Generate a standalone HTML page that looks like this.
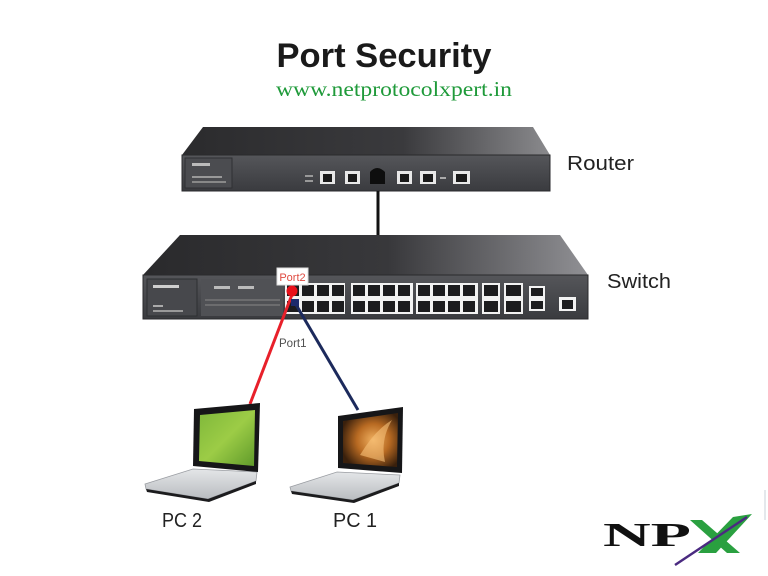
<!DOCTYPE html>
<html>
<head>
<meta charset="utf-8">
<style>
html,body{margin:0;padding:0;background:#fff;}
svg{display:block;}
</style>
</head>
<body>
<svg width="768" height="576" viewBox="0 0 768 576" xmlns="http://www.w3.org/2000/svg">
<defs>
  <linearGradient id="topR" x1="0" y1="0" x2="1" y2="0">
    <stop offset="0" stop-color="#2b2b2d"/>
    <stop offset="0.6" stop-color="#3a3a3d"/>
    <stop offset="1" stop-color="#8a8a8d"/>
  </linearGradient>
  <linearGradient id="topS" x1="0" y1="0" x2="1" y2="0">
    <stop offset="0" stop-color="#2a2a2c"/>
    <stop offset="0.55" stop-color="#38383b"/>
    <stop offset="1" stop-color="#909094"/>
  </linearGradient>
  <linearGradient id="front" x1="0" y1="0" x2="0" y2="1">
    <stop offset="0" stop-color="#55565a"/>
    <stop offset="1" stop-color="#3a3b3f"/>
  </linearGradient>
  <linearGradient id="green" x1="0" y1="0" x2="1" y2="1">
    <stop offset="0" stop-color="#7fb83a"/>
    <stop offset="0.5" stop-color="#9ccc46"/>
    <stop offset="1" stop-color="#5f9a2a"/>
  </linearGradient>
  <radialGradient id="orange" cx="0.55" cy="0.5" r="0.6">
    <stop offset="0" stop-color="#f0b060"/>
    <stop offset="0.5" stop-color="#b86a22"/>
    <stop offset="1" stop-color="#3a200c"/>
  </radialGradient>
  <linearGradient id="base" x1="0" y1="0" x2="0" y2="1">
    <stop offset="0" stop-color="#e4e6e8"/>
    <stop offset="1" stop-color="#b9bcc0"/>
  </linearGradient>
</defs>

<!-- Title -->
<text x="384" y="67" text-anchor="middle" font-family="Liberation Sans, sans-serif" font-weight="bold" font-size="34" fill="#1a1a1a" textLength="215" lengthAdjust="spacingAndGlyphs">Port Security</text>
<text x="394" y="96" text-anchor="middle" font-family="Liberation Serif, serif" font-size="21" fill="#1f9a3a" textLength="236" lengthAdjust="spacingAndGlyphs">www.netprotocolxpert.in</text>

<!-- Router -->
<polygon points="203,127 533,127 550,155 182,155" fill="url(#topR)"/>
<rect x="182" y="155" width="368" height="36" fill="url(#front)"/>
<rect x="182" y="155" width="368" height="36" fill="none" stroke="#2a2a2c" stroke-width="1"/>
<rect x="185" y="158" width="47" height="30" fill="#4b4c50" stroke="#2f3033" stroke-width="1"/>
<rect x="192" y="163" width="18" height="3" fill="#bbb"/>
<rect x="192" y="176" width="30" height="2" fill="#999"/>
<rect x="192" y="181" width="34" height="2" fill="#888"/>
<g fill="#e8e8e8">
  <rect x="320" y="171" width="15" height="13"/>
  <rect x="345" y="171" width="15" height="13"/>
  <rect x="397" y="171" width="15" height="13"/>
  <rect x="420" y="171" width="16" height="13"/>
  <rect x="453" y="171" width="17" height="13"/>
</g>
<g fill="#1a1a1a">
  <rect x="323" y="174" width="9" height="8"/>
  <rect x="348" y="174" width="9" height="8"/>
  <rect x="400" y="174" width="9" height="8"/>
  <rect x="423" y="174" width="10" height="8"/>
  <rect x="456" y="174" width="11" height="8"/>
</g>
<path d="M370,172 Q377,164 385,172 L385,184 L370,184 Z" fill="#0e0e0e"/>
<rect x="305" y="175" width="8" height="2" fill="#999"/>
<rect x="305" y="180" width="8" height="2" fill="#999"/>
<rect x="440" y="177" width="6" height="2" fill="#aaa"/>

<!-- Router-switch link -->
<line x1="378" y1="191" x2="378" y2="235" stroke="#111" stroke-width="3"/>

<!-- Switch -->
<polygon points="180,235 560,235 588,275 143,275" fill="url(#topS)"/>
<rect x="143" y="275" width="445" height="44" fill="url(#front)"/>
<rect x="143" y="275" width="445" height="44" fill="none" stroke="#2a2a2c" stroke-width="1"/>
<rect x="147" y="279" width="50" height="37" fill="#47484c" stroke="#2e2f32"/>
<rect x="153" y="285" width="26" height="3" fill="#cfcfcf"/>
<rect x="153" y="305" width="10" height="2" fill="#aaa"/>
<rect x="153" y="310" width="30" height="2" fill="#999"/>
<!-- LED area -->
<rect x="201" y="279" width="82" height="37" fill="#505155"/>
<rect x="214" y="286" width="16" height="3" fill="#bbb"/>
<rect x="238" y="286" width="16" height="3" fill="#bbb"/>
<g stroke="#888" stroke-width="1">
  <line x1="205" y1="300" x2="280" y2="300"/>
  <line x1="205" y1="305" x2="280" y2="305"/>
</g>
<!-- ports -->
<g fill="#f2f2f2">
  <rect x="285" y="283" width="60" height="31"/>
  <rect x="351" y="283" width="62" height="31"/>
  <rect x="416" y="283" width="62" height="31"/>
  <rect x="482" y="283" width="18" height="31"/>
  <rect x="504" y="283" width="19" height="31"/>
  <rect x="529" y="286" width="16" height="25"/>
  <rect x="559" y="297" width="17" height="14"/>
</g>
<g fill="#1c1c1e">
  <rect x="287" y="285" width="12" height="11"/><rect x="302" y="285" width="12" height="11"/><rect x="317" y="285" width="12" height="11"/><rect x="332" y="285" width="12" height="11"/>
  <rect x="287" y="301" width="12" height="11"/><rect x="302" y="301" width="12" height="11"/><rect x="317" y="301" width="12" height="11"/><rect x="332" y="301" width="12" height="11"/>
  <rect x="353" y="285" width="12" height="11"/><rect x="368" y="285" width="12" height="11"/><rect x="383" y="285" width="12" height="11"/><rect x="398" y="285" width="12" height="11"/>
  <rect x="353" y="301" width="12" height="11"/><rect x="368" y="301" width="12" height="11"/><rect x="383" y="301" width="12" height="11"/><rect x="398" y="301" width="12" height="11"/>
  <rect x="418" y="285" width="12" height="11"/><rect x="433" y="285" width="12" height="11"/><rect x="448" y="285" width="12" height="11"/><rect x="463" y="285" width="12" height="11"/>
  <rect x="418" y="301" width="12" height="11"/><rect x="433" y="301" width="12" height="11"/><rect x="448" y="301" width="12" height="11"/><rect x="463" y="301" width="12" height="11"/>
  <rect x="484" y="285" width="14" height="11"/><rect x="484" y="301" width="14" height="11"/>
  <rect x="506" y="285" width="15" height="11"/><rect x="506" y="301" width="15" height="11"/>
  <rect x="531" y="288" width="12" height="8"/><rect x="531" y="301" width="12" height="8"/>
  <rect x="562" y="300" width="11" height="9"/>
</g>

<!-- Port2 label and links -->
<rect x="277" y="268" width="31" height="17" fill="#fff" stroke="#ddd"/>
<text x="292.5" y="281" text-anchor="middle" font-family="Liberation Sans, sans-serif" font-size="11" fill="#e04a40">Port2</text>
<line x1="293" y1="292" x2="250" y2="404" stroke="#e8202a" stroke-width="3"/>
<line x1="295" y1="303" x2="358" y2="410" stroke="#1c2a5c" stroke-width="3"/>
<circle cx="292" cy="291" r="5.5" fill="#e8101a"/>
<rect x="291" y="299" width="8" height="7" fill="#1c2a6c"/>
<text x="279" y="347" font-family="Liberation Sans, sans-serif" font-size="11.5" fill="#505050">Port1</text>

<!-- Labels -->
<text x="567" y="170" font-family="Liberation Sans, sans-serif" font-size="20" fill="#222" textLength="67" lengthAdjust="spacingAndGlyphs">Router</text>
<text x="607" y="288" font-family="Liberation Sans, sans-serif" font-size="20" fill="#222" textLength="64" lengthAdjust="spacingAndGlyphs">Switch</text>

<!-- PC2 laptop -->
<polygon points="145,484 193,469 257,472 256,481 208,499 146,489" fill="url(#base)" stroke="#9a9da2" stroke-width="0.8"/>
<polygon points="146,489 208,499 256,481 256,484 209,502 147,492" fill="#1c1c1e"/>
<polygon points="194,409 260,403 258,472 193,466" fill="#161618"/>
<polygon points="200,415 255,410 254,466 199,461" fill="url(#green)"/>
<text x="162" y="527" font-family="Liberation Sans, sans-serif" font-size="20" fill="#222" textLength="40" lengthAdjust="spacingAndGlyphs">PC 2</text>

<!-- PC1 laptop -->
<polygon points="290,487 337,472 400,475 399,483 353,500 291,491" fill="url(#base)" stroke="#9a9da2" stroke-width="0.8"/>
<polygon points="291,491 353,500 399,483 399,486 354,503 292,494" fill="#1c1c1e"/>
<polygon points="338,416 403,407 402,473 338,468" fill="#161618"/>
<polygon points="343,421 398,413 397,467 343,463" fill="url(#orange)"/>
<path d="M360,455 Q375,430 392,420 Q380,440 385,462 Z" fill="#f6c27a" opacity="0.6"/>
<text x="333" y="527" font-family="Liberation Sans, sans-serif" font-size="20" fill="#222" textLength="44" lengthAdjust="spacingAndGlyphs">PC 1</text>

<!-- NPX logo -->
<line x1="765" y1="490" x2="765" y2="520" stroke="#c8d0d8" stroke-width="1"/>
<text x="603" y="546" font-family="Liberation Serif, serif" font-weight="bold" font-size="34" fill="#111" textLength="88" lengthAdjust="spacingAndGlyphs">NP</text>
<polygon points="690,520 702,520 740,553 727,553" fill="#2aa040"/>
<polygon points="733,517 752,514 716,553 698,553" fill="#2aa040"/>
<line x1="675" y1="565" x2="747" y2="517" stroke="#4a2a80" stroke-width="2.5"/>
</svg>
</body>
</html>
